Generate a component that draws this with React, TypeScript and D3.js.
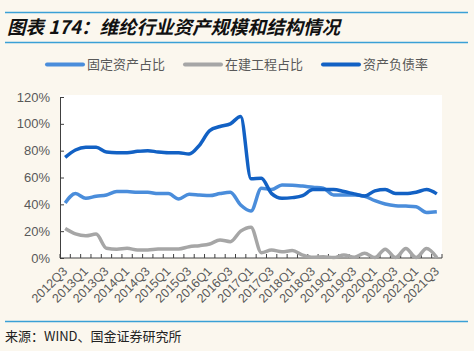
import React, { useRef, useEffect } from "react";
import * as d3 from "d3";

// quarter labels, 2012Q3 .. 2021Q3
const quarters = [
  "2012Q3", "2012Q4",
  "2013Q1", "2013Q2", "2013Q3", "2013Q4",
  "2014Q1", "2014Q2", "2014Q3", "2014Q4",
  "2015Q1", "2015Q2", "2015Q3", "2015Q4",
  "2016Q1", "2016Q2", "2016Q3", "2016Q4",
  "2017Q1", "2017Q2", "2017Q3", "2017Q4",
  "2018Q1", "2018Q2", "2018Q3", "2018Q4",
  "2019Q1", "2019Q2", "2019Q3", "2019Q4",
  "2020Q1", "2020Q2", "2020Q3", "2020Q4",
  "2021Q1", "2021Q2", "2021Q3",
];

// 固定资产占比 (%)
const fixedAssets = [
  41, 48, 44.5, 46, 47, 49.5, 49.5, 49, 49, 48, 48, 44, 47.5, 47, 46.5, 48, 49,
  39.5, 35, 52, 51, 54.5, 54.3, 53.6, 52.7, 52, 47, 47, 47, 46, 42.7, 40.2, 39,
  38.7, 38.2, 34, 34.5,
];

// 在建工程占比 (%)
const constructionInProgress = [
  22, 18, 16.6, 17.8, 7.2, 6.5, 7.2, 6, 6, 6.7, 6.7, 6.7, 8.4, 9.2, 10.4, 13.4,
  12.2, 20, 23, 4, 6, 4.7, 5.5, 2.2, 0.5, 1, 0.3, 2.2, 0.5, 3.5, 0.3, 6.5, 0.3,
  7, 0.3, 7, 0.3,
];

// 资产负债率 (%)
const debtRatio = [
  75, 80.5, 82.5, 82.5, 79, 78.5, 78.5, 79.5, 80, 79, 78.5, 78.5, 77.5, 84, 95,
  98, 100, 105.5, 59, 59.5, 48, 44.5, 45, 46.5, 51, 51, 51, 49.5, 47.8, 46.2,
  50, 51, 48, 48, 49, 51, 47.8,
];

const yTicks = [0, 20, 40, 60, 80, 100, 120];

const seriesNames = ["固定资产占比", "在建工程占比", "资产负债率"];
const seriesColors = ["#4a8ddb", "#a6a6a6", "#1261c4"];

function Chart() {
  const svgRef = useRef<SVGSVGElement>(null);

  useEffect(() => {
    const svg = d3.select(svgRef.current);
    svg.selectAll("*").remove();

    const W = 474;
    const H = 351;
    const plot = { left: 60, right: 442, top: 95, bottom: 258 };
    const font = "'Liberation Sans', Arial, sans-serif";
    const cjk = "'Noto Sans CJK SC', sans-serif";

    // background
    svg.append("rect").attr("width", W).attr("height", H).attr("fill", "#fbf7ee");

    // title block
    svg.append("line").attr("x1", 5).attr("x2", 468).attr("y1", 12.5).attr("y2", 12.5)
      .attr("stroke", "#3aa0d6").attr("stroke-width", 1.5);
    svg.append("line").attr("x1", 5).attr("x2", 468).attr("y1", 42.5).attr("y2", 42.5)
      .attr("stroke", "#3aa0d6").attr("stroke-width", 1.5);
    svg.append("text")
      .attr("x", 7).attr("y", 34)
      .attr("font-family", cjk)
      .attr("font-size", 18.5)
      .attr("font-weight", "bold")
      .attr("font-style", "italic")
      .attr("fill", "#111")
      .text("图表 174：维纶行业资产规模和结构情况");

    // legend
    const legendPos = [
      { x1: 47, x2: 83, tx: 87 },
      { x1: 185, x2: 221, tx: 225 },
      { x1: 323, x2: 359, tx: 363 },
    ];
    seriesNames.forEach((name, i) => {
      const p = legendPos[i];
      svg.append("line")
        .attr("x1", p.x1).attr("x2", p.x2).attr("y1", 64.5).attr("y2", 64.5)
        .attr("stroke", seriesColors[i]).attr("stroke-width", 4)
        .attr("stroke-linecap", "round");
      svg.append("text")
        .attr("x", p.tx).attr("y", 69)
        .attr("font-family", cjk).attr("font-size", 13)
        .attr("fill", "#595959")
        .text(name);
    });

    // plot area
    svg.append("rect")
      .attr("x", plot.left).attr("y", plot.top)
      .attr("width", plot.right - plot.left).attr("height", plot.bottom - plot.top)
      .attr("fill", "#ffffff");

    const x = d3.scaleBand().domain(quarters).range([plot.left, plot.right]);
    const y = d3.scaleLinear().domain([0, 120]).range([plot.bottom, 97]);

    // y axis
    const yAxis = svg.append("g").attr("transform", `translate(${plot.left},0)`)
      .call(d3.axisRight(y).tickValues(yTicks).tickSize(4).tickFormat(() => ""));
    yAxis.select(".domain").attr("stroke", "#404040");
    yAxis.selectAll(".tick line").attr("stroke", "#404040");
    yTicks.forEach((t) => {
      svg.append("text")
        .attr("x", 50).attr("y", y(t) + 4.5)
        .attr("text-anchor", "end")
        .attr("font-family", font).attr("font-size", 13)
        .attr("fill", "#595959")
        .text(t + "%");
    });

    // x axis (ticks on category boundaries, pointing up)
    const bounds = d3.range(quarters.length + 1).map((i) => plot.left + i * x.bandwidth());
    svg.append("line")
      .attr("x1", plot.left).attr("x2", plot.right)
      .attr("y1", plot.bottom).attr("y2", plot.bottom)
      .attr("stroke", "#404040");
    svg.selectAll(".xtick").data(bounds).enter().append("line")
      .attr("x1", (d) => d).attr("x2", (d) => d)
      .attr("y1", plot.bottom).attr("y2", plot.bottom - 4)
      .attr("stroke", "#404040");

    quarters.forEach((q, i) => {
      if (i % 2 !== 0) return;
      const cx = (x(q) as number) + x.bandwidth() / 2;
      svg.append("text")
        .attr("transform", `translate(${cx + 3},${plot.bottom + 14}) rotate(-45)`)
        .attr("text-anchor", "end")
        .attr("font-family", font).attr("font-size", 12.5)
        .attr("fill", "#595959")
        .text(q);
    });

    // series
    const data = [fixedAssets, constructionInProgress, debtRatio];
    const line = d3.line<number>()
      .x((_, i) => (x(quarters[i]) as number) + x.bandwidth() / 2)
      .y((d) => y(d))
      .curve(d3.curveMonotoneX);

    data.forEach((s, i) => {
      svg.append("path")
        .datum(s)
        .attr("d", line)
        .attr("fill", "none")
        .attr("stroke", seriesColors[i])
        .attr("stroke-width", 3.5)
        .attr("stroke-linejoin", "round");
    });

    // source
    svg.append("line").attr("x1", 5).attr("x2", 468).attr("y1", 321.5).attr("y2", 321.5)
      .attr("stroke", "#3aa0d6").attr("stroke-width", 1.5);
    svg.append("text")
      .attr("x", 5).attr("y", 341)
      .attr("font-family", cjk).attr("font-size", 13)
      .attr("fill", "#222")
      .text("来源：WIND、国金证券研究所");
  }, []);

  return <svg ref={svgRef} width={474} height={351} style={{ position: "absolute", left: 0, top: 0 }} />;
}

export default function App() {
  return <Chart />;
}
